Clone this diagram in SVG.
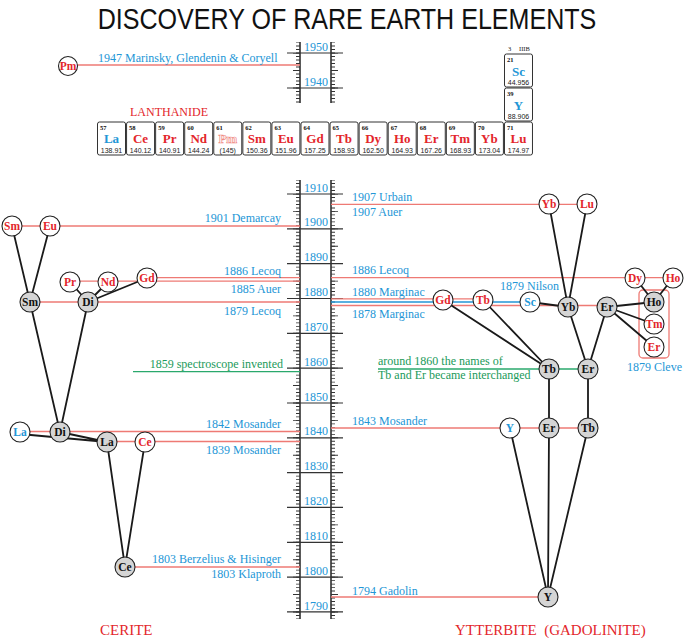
<svg xmlns="http://www.w3.org/2000/svg" width="685" height="638" viewBox="0 0 685 638">
<style>
.t{font-family:"Liberation Serif","Times New Roman",serif}
.lb{font-family:"Liberation Serif",serif;font-size:12px;fill:#2396d6}
.lr{text-anchor:end}
.gr{font-family:"Liberation Serif",serif;font-size:12px;fill:#1a9a5a}
.yr{font-family:"Liberation Serif",serif;font-size:12px;fill:#2396d6;text-anchor:middle}
.nd circle{stroke:#222;stroke-width:1.1}
.w{fill:#fff}
.g{fill:#d5d5d5}
.nd text{font-family:"Liberation Serif",serif;font-weight:bold;font-size:11.5px;text-anchor:middle}
.cr{fill:#e3262b}
.cb{fill:#2396d6}
.ck{fill:#111}
.rl{stroke:#ee7a74;stroke-width:1.3;fill:none}
.bl{stroke:#2396d6;stroke-width:1.3;fill:none}
.gl{stroke:#2aa86c;stroke-width:1.3;fill:none}
.kl{stroke:#1a1a1a;stroke-width:1.8;fill:none}
.axis{stroke:#222;stroke-width:1.5;fill:none}
.cell rect{fill:#fff;stroke:#333;stroke-width:1}
.num{font-family:"Liberation Serif",serif;font-weight:bold;font-size:6.5px;fill:#111}
.sym{font-family:"Liberation Serif",serif;font-weight:bold;font-size:13px;text-anchor:middle}
.ms{font-family:"Liberation Sans",Arial,sans-serif;font-size:7px;text-anchor:middle;fill:#222}
</style>

<!-- Title -->
<text transform="translate(347 29) scale(0.836 1)" x="0" y="0" text-anchor="middle" font-family="'Liberation Sans',Arial,sans-serif" font-size="30" fill="#111">DISCOVERY OF RARE EARTH ELEMENTS</text>

<!-- Timeline top segment -->
<g id="timeline-top">
<line class="axis" x1="300" y1="42" x2="300" y2="103"/>
<line class="axis" x1="331" y1="42" x2="331" y2="103"/>
<line x1="298" y1="42.5" x2="298" y2="102.5" stroke="#333" stroke-width="4" stroke-dasharray="0.9 2.6" stroke-dashoffset="0.45"/>
<line x1="333" y1="42.5" x2="333" y2="102.5" stroke="#333" stroke-width="4" stroke-dasharray="0.9 2.6" stroke-dashoffset="0.45"/>
<line x1="296.5" y1="53" x2="296.5" y2="89" stroke="#333" stroke-width="7" stroke-dasharray="0.9 16.6" stroke-dashoffset="0.45"/>
<line x1="334.5" y1="53" x2="334.5" y2="89" stroke="#333" stroke-width="7" stroke-dasharray="0.9 16.6" stroke-dashoffset="0.45"/>
<path d="M287 53H343M287 88H343" stroke="#333" stroke-width="1.2"/>
<text class="yr" x="316" y="51">1950</text>
<text class="yr" x="316" y="86">1940</text>
</g>

<!-- Main timeline -->
<g id="timeline">
<line class="axis" x1="300" y1="180" x2="300" y2="619"/>
<line class="axis" x1="331" y1="180" x2="331" y2="619"/>
<line x1="298" y1="180.07" x2="298" y2="618.97" stroke="#333" stroke-width="4" stroke-dasharray="0.9 2.583" stroke-dashoffset="0.45"/>
<line x1="333" y1="180.07" x2="333" y2="618.97" stroke="#333" stroke-width="4" stroke-dasharray="0.9 2.583" stroke-dashoffset="0.45"/>
<line x1="296.5" y1="194" x2="296.5" y2="613" stroke="#333" stroke-width="7" stroke-dasharray="0.9 16.515" stroke-dashoffset="0.45"/>
<line x1="334.5" y1="194" x2="334.5" y2="613" stroke="#333" stroke-width="7" stroke-dasharray="0.9 16.515" stroke-dashoffset="0.45"/>
<path d="M287 194H343M287 228.83H343M287 263.66H343M287 298.49H343M287 333.32H343M287 368.15H343M287 402.98H343M287 437.81H343M287 472.64H343M287 507.47H343M287 542.3H343M287 577.13H343M287 611.96H343" stroke="#333" stroke-width="1.2"/>
<text class="yr" x="316" y="191.5">1910</text>
<text class="yr" x="316" y="226.3">1900</text>
<text class="yr" x="316" y="261.2">1890</text>
<text class="yr" x="316" y="296">1880</text>
<text class="yr" x="316" y="330.8">1870</text>
<text class="yr" x="316" y="365.6">1860</text>
<text class="yr" x="316" y="400.5">1850</text>
<text class="yr" x="316" y="435.3">1840</text>
<text class="yr" x="316" y="470.1">1830</text>
<text class="yr" x="316" y="505">1820</text>
<text class="yr" x="316" y="539.8">1810</text>
<text class="yr" x="316" y="574.6">1800</text>
<text class="yr" x="316" y="609.5">1790</text>
</g>

<!-- Periodic table -->
<g id="periodic-table">
<text x="508" y="51" class="t" font-size="6.5" fill="#222">3</text>
<text x="519" y="51" class="t" font-size="6.5" fill="#222">IIIB</text>
<text x="130" y="116" class="t" font-size="12" fill="#e3262b">LANTHANIDE</text>
<g class="cell" id="cell-Sc"><rect x="504.5" y="54" width="28" height="33" rx="2"/><text class="num" x="507" y="62">21</text><text class="sym cb" x="518.5" y="75.5">Sc</text><text class="ms" x="518.5" y="85">44.956</text></g>
<g class="cell" id="cell-Y"><rect x="504.5" y="88" width="28" height="33" rx="2"/><text class="num" x="507" y="96">39</text><text class="sym cb" x="518.5" y="109.5">Y</text><text class="ms" x="518.5" y="119">88.906</text></g>
<g class="cell" id="cell-La"><rect x="97.5" y="122" width="28" height="33" rx="2"/><text class="num" x="100" y="130">57</text><text class="sym cb" x="111.5" y="143">La</text><text class="ms" x="111.5" y="153">138.91</text></g>
<g class="cell" id="cell-Ce"><rect x="126.57" y="122" width="28" height="33" rx="2"/><text class="num" x="129.07" y="130">58</text><text class="sym cr" x="140.57" y="143">Ce</text><text class="ms" x="140.57" y="153">140.12</text></g>
<g class="cell" id="cell-Pr"><rect x="155.64" y="122" width="28" height="33" rx="2"/><text class="num" x="158.14" y="130">59</text><text class="sym cr" x="169.64" y="143">Pr</text><text class="ms" x="169.64" y="153">140.91</text></g>
<g class="cell" id="cell-Nd"><rect x="184.71" y="122" width="28" height="33" rx="2"/><text class="num" x="187.21" y="130">60</text><text class="sym cr" x="198.71" y="143">Nd</text><text class="ms" x="198.71" y="153">144.24</text></g>
<g class="cell" id="cell-Pm"><rect x="213.78" y="122" width="28" height="33" rx="2"/><text class="num" x="216.28" y="130">61</text><text class="sym" x="227.78" y="143" fill="#fff" stroke="#ef8a84" stroke-width="0.7">Pm</text><text class="ms" x="227.78" y="153">(145)</text></g>
<g class="cell" id="cell-Sm"><rect x="242.85" y="122" width="28" height="33" rx="2"/><text class="num" x="245.35" y="130">62</text><text class="sym cr" x="256.85" y="143">Sm</text><text class="ms" x="256.85" y="153">150.36</text></g>
<g class="cell" id="cell-Eu"><rect x="271.92" y="122" width="28" height="33" rx="2"/><text class="num" x="274.42" y="130">63</text><text class="sym cr" x="285.92" y="143">Eu</text><text class="ms" x="285.92" y="153">151.96</text></g>
<g class="cell" id="cell-Gd"><rect x="300.99" y="122" width="28" height="33" rx="2"/><text class="num" x="303.49" y="130">64</text><text class="sym cr" x="314.99" y="143">Gd</text><text class="ms" x="314.99" y="153">157.25</text></g>
<g class="cell" id="cell-Tb"><rect x="330.06" y="122" width="28" height="33" rx="2"/><text class="num" x="332.56" y="130">65</text><text class="sym cr" x="344.06" y="143">Tb</text><text class="ms" x="344.06" y="153">158.93</text></g>
<g class="cell" id="cell-Dy"><rect x="359.13" y="122" width="28" height="33" rx="2"/><text class="num" x="361.63" y="130">66</text><text class="sym cr" x="373.13" y="143">Dy</text><text class="ms" x="373.13" y="153">162.50</text></g>
<g class="cell" id="cell-Ho"><rect x="388.2" y="122" width="28" height="33" rx="2"/><text class="num" x="390.7" y="130">67</text><text class="sym cr" x="402.2" y="143">Ho</text><text class="ms" x="402.2" y="153">164.93</text></g>
<g class="cell" id="cell-Er"><rect x="417.27" y="122" width="28" height="33" rx="2"/><text class="num" x="419.77" y="130">68</text><text class="sym cr" x="431.27" y="143">Er</text><text class="ms" x="431.27" y="153">167.26</text></g>
<g class="cell" id="cell-Tm"><rect x="446.34" y="122" width="28" height="33" rx="2"/><text class="num" x="448.84" y="130">69</text><text class="sym cr" x="460.34" y="143">Tm</text><text class="ms" x="460.34" y="153">168.93</text></g>
<g class="cell" id="cell-Yb"><rect x="475.41" y="122" width="28" height="33" rx="2"/><text class="num" x="477.91" y="130">70</text><text class="sym cr" x="489.41" y="143">Yb</text><text class="ms" x="489.41" y="153">173.04</text></g>
<g class="cell" id="cell-Lu"><rect x="504.48" y="122" width="28" height="33" rx="2"/><text class="num" x="506.98" y="130">71</text><text class="sym cr" x="518.48" y="143">Lu</text><text class="ms" x="518.48" y="153">174.97</text></g>
</g>

<!-- Connectors -->
<g id="connectors">
<path class="rl" d="M68 65H300"/>
<path class="rl" d="M12 226H300"/>
<path class="rl" d="M147 277.6H300"/>
<path class="rl" d="M70 281.1H300"/>
<path class="rl" d="M30 302H300"/>
<path class="rl" d="M20 431.5H300"/>
<path class="rl" d="M107 441.5H300"/>
<path class="rl" d="M125 567H300"/>
<path class="gl" d="M133 371.6H300"/>
<path class="rl" d="M331 204.4H587"/>
<path class="rl" d="M331 277.6H673"/>
<path class="rl" d="M331 298.8H483"/>
<path class="bl" d="M331 302H530"/>
<path class="rl" d="M331 305.5H607"/>
<path class="gl" d="M378 369H588"/>
<path class="rl" d="M331 428H588"/>
<path class="rl" d="M331 597H548"/>
<rect x="639" y="290" width="30" height="68" rx="4" fill="none" stroke="#ee7a74" stroke-width="1.3"/>
<path class="kl" d="M12 226L30 302M50 226L30 302"/>
<path class="kl" d="M70 282L88 302M108 282L88 302M147 278L88 302"/>
<path class="kl" d="M30 302L60 432M88 302L60 432"/>
<path class="kl" d="M20 434L107 442M60 432L107 442"/>
<path class="kl" d="M107 442L125 567M145 442L125 567"/>
<path class="kl" d="M549 204L568 307M587 204L568 307"/>
<path class="kl" d="M530 302L568 307"/>
<path class="kl" d="M607 307L654 302M607 307L654 324M607 307L654 347"/>
<path class="kl" d="M635 278L654 302M673 278L654 302"/>
<path class="kl" d="M443 300L549 369M483 300L549 369"/>
<path class="kl" d="M568 307L588 369M607 307L588 369"/>
<path class="kl" d="M549 369V428M588 369V428"/>
<path class="kl" d="M548 597L510 428M548 597L549 428M548 597L588 428"/>
</g>

<!-- Labels -->
<g id="labels">
<text class="lb" x="98" y="62">1947 Marinsky, Glendenin &amp; Coryell</text>
<text class="lb lr" x="281" y="222">1901 Demarcay</text>
<text class="lb lr" x="281" y="274.5">1886 Lecoq</text>
<text class="lb lr" x="281" y="292.5">1885 Auer</text>
<text class="lb lr" x="281" y="315">1879 Lecoq</text>
<text class="gr" x="283" y="367.5" text-anchor="end">1859 spectroscope invented</text>
<text class="lb lr" x="281" y="427.5">1842 Mosander</text>
<text class="lb lr" x="281" y="453.5">1839 Mosander</text>
<text class="lb lr" x="281" y="563">1803 Berzelius &amp; Hisinger</text>
<text class="lb lr" x="281" y="578">1803 Klaproth</text>
<text class="lb" x="352" y="201">1907 Urbain</text>
<text class="lb" x="352" y="215.5">1907 Auer</text>
<text class="lb" x="352" y="274">1886 Lecoq</text>
<text class="lb" x="352" y="295.5">1880 Marginac</text>
<text class="lb" x="500" y="290">1879 Nilson</text>
<text class="lb" x="352" y="318">1878 Marginac</text>
<text class="gr" x="378" y="365">around 1860 the names of</text>
<text class="gr" x="378" y="378.5">Tb and Er became interchanged</text>
<text class="lb" x="627" y="371">1879 Cleve</text>
<text class="lb" x="352" y="424.5">1843 Mosander</text>
<text class="lb" x="352" y="595">1794 Gadolin</text>
<text class="t" x="100" y="635" font-size="15" fill="#e3262b">CERITE</text>
<text class="t" x="455" y="635" font-size="15" fill="#e3262b" xml:space="preserve">YTTERBITE  (GADOLINITE)</text>
</g>

<!-- Nodes -->
<g id="n-Pm" class="nd"><circle class="w" cx="68" cy="66" r="9.5"/><text class="cr" x="68" y="70">Pm</text></g>
<g id="n-Sm-1901" class="nd"><circle class="w" cx="12" cy="226" r="10"/><text class="cr" x="12" y="230">Sm</text></g>
<g id="n-Eu" class="nd"><circle class="w" cx="50" cy="226" r="10"/><text class="cr" x="50" y="230">Eu</text></g>
<g id="n-Pr" class="nd"><circle class="w" cx="70" cy="282" r="10"/><text class="cr" x="70" y="286">Pr</text></g>
<g id="n-Nd" class="nd"><circle class="w" cx="108" cy="282" r="10"/><text class="cr" x="108" y="286">Nd</text></g>
<g id="n-Gd-left" class="nd"><circle class="w" cx="147" cy="278" r="10"/><text class="cr" x="147" y="282">Gd</text></g>
<g id="n-Sm-1879" class="nd"><circle class="g" cx="30" cy="302" r="10"/><text class="ck" x="30" y="306">Sm</text></g>
<g id="n-Di-1879" class="nd"><circle class="g" cx="88" cy="302" r="10"/><text class="ck" x="88" y="306">Di</text></g>
<g id="n-La-1842" class="nd"><circle class="w" cx="20" cy="432" r="10"/><text class="cb" x="20" y="436">La</text></g>
<g id="n-Di-1842" class="nd"><circle class="g" cx="60" cy="432" r="10"/><text class="ck" x="60" y="436">Di</text></g>
<g id="n-La-1839" class="nd"><circle class="g" cx="107" cy="442" r="10"/><text class="ck" x="107" y="446">La</text></g>
<g id="n-Ce-1839" class="nd"><circle class="w" cx="145" cy="442" r="10"/><text class="cr" x="145" y="446">Ce</text></g>
<g id="n-Ce-1803" class="nd"><circle class="g" cx="125" cy="567" r="10"/><text class="ck" x="125" y="571">Ce</text></g>

<g id="n-Yb-1907" class="nd"><circle class="w" cx="549" cy="204" r="10"/><text class="cr" x="549" y="208">Yb</text></g>
<g id="n-Lu" class="nd"><circle class="w" cx="587" cy="204" r="10"/><text class="cr" x="587" y="208">Lu</text></g>
<g id="n-Dy" class="nd"><circle class="w" cx="635" cy="278" r="10"/><text class="cr" x="635" y="282">Dy</text></g>
<g id="n-Ho-1886" class="nd"><circle class="w" cx="673" cy="278" r="10"/><text class="cr" x="673" y="282">Ho</text></g>
<g id="n-Gd-right" class="nd"><circle class="w" cx="443" cy="300" r="10"/><text class="cr" x="443" y="304">Gd</text></g>
<g id="n-Tb-1880" class="nd"><circle class="w" cx="483" cy="300" r="10"/><text class="cr" x="483" y="304">Tb</text></g>
<g id="n-Sc" class="nd"><circle class="w" cx="530" cy="302" r="10"/><text class="cb" x="530" y="306">Sc</text></g>
<g id="n-Yb-1878" class="nd"><circle class="g" cx="568" cy="307" r="10"/><text class="ck" x="568" y="311">Yb</text></g>
<g id="n-Er-1878" class="nd"><circle class="g" cx="607" cy="307" r="10"/><text class="ck" x="607" y="311">Er</text></g>
<g id="n-Ho-1879" class="nd"><circle class="g" cx="654" cy="302" r="10"/><text class="ck" x="654" y="306">Ho</text></g>
<g id="n-Tm" class="nd"><circle class="w" cx="654" cy="324" r="10"/><text class="cr" x="654" y="328">Tm</text></g>
<g id="n-Er-1879" class="nd"><circle class="w" cx="654" cy="347" r="10"/><text class="cr" x="654" y="351">Er</text></g>
<g id="n-Tb-1860" class="nd"><circle class="g" cx="549" cy="369" r="10"/><text class="ck" x="549" y="373">Tb</text></g>
<g id="n-Er-1860" class="nd"><circle class="g" cx="588" cy="369" r="10"/><text class="ck" x="588" y="373">Er</text></g>
<g id="n-Y-1843" class="nd"><circle class="w" cx="510" cy="428" r="10"/><text class="cb" x="510" y="432">Y</text></g>
<g id="n-Er-1843" class="nd"><circle class="g" cx="549" cy="428" r="10"/><text class="ck" x="549" y="432">Er</text></g>
<g id="n-Tb-1843" class="nd"><circle class="g" cx="588" cy="428" r="10"/><text class="ck" x="588" y="432">Tb</text></g>
<g id="n-Y-1794" class="nd"><circle class="g" cx="548" cy="597" r="10"/><text class="ck" x="548" y="601">Y</text></g>
</svg>
